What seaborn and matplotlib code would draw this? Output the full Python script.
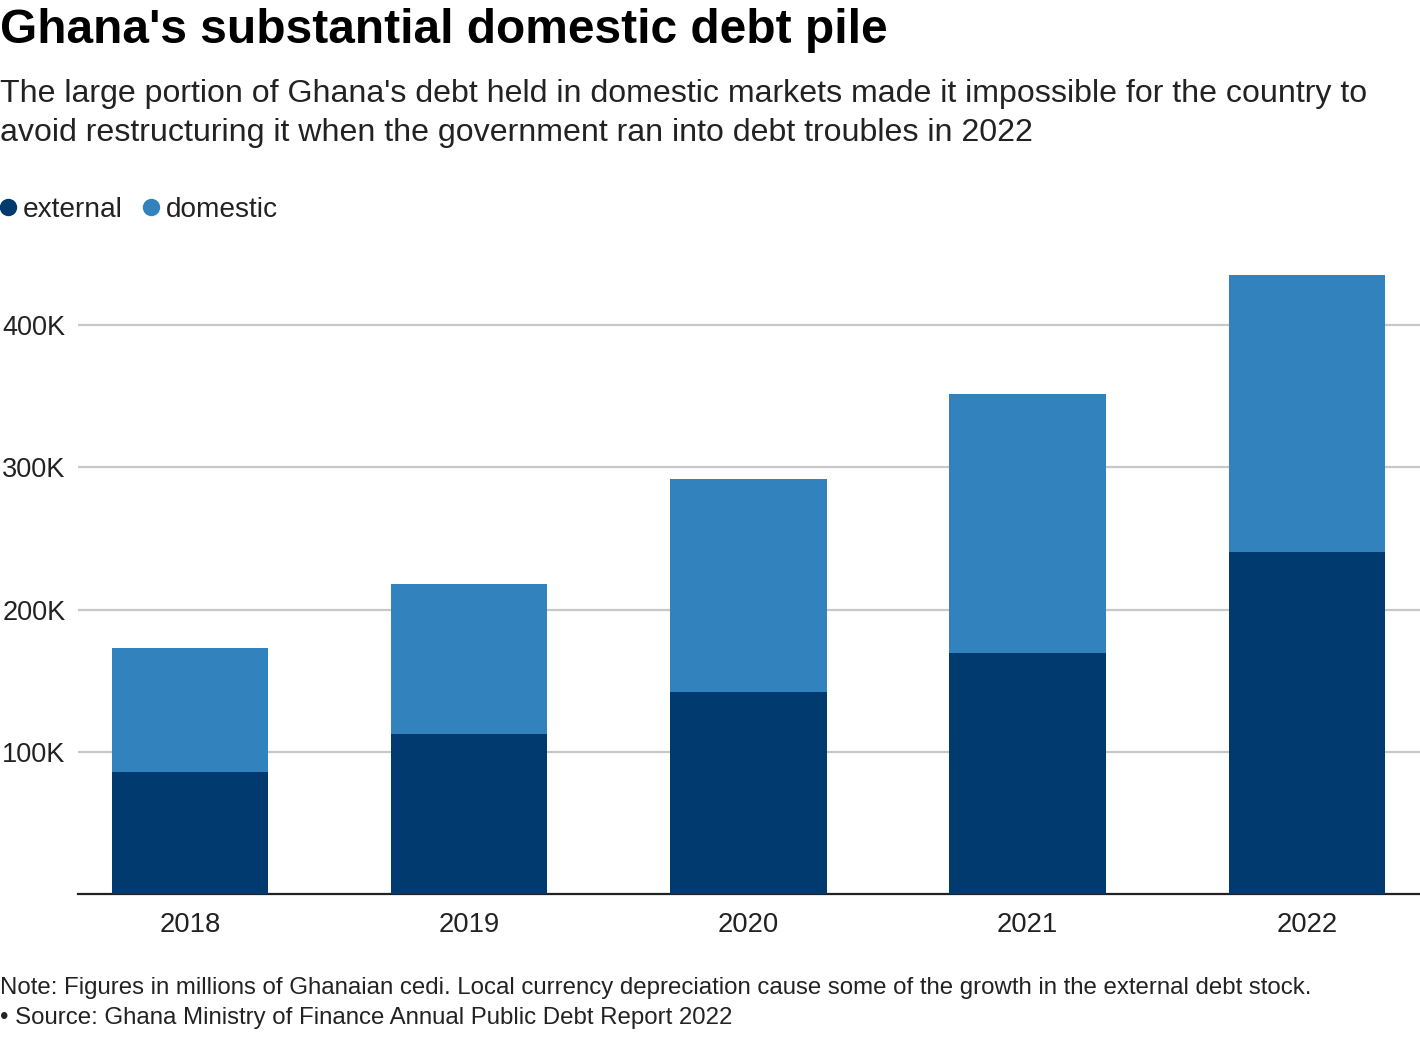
import matplotlib
matplotlib.use("Agg")
import matplotlib.pyplot as plt
from matplotlib.lines import Line2D
import pandas as pd
import seaborn as sns

# ── data (millions of cedi) ──
years    = ["2018", "2019", "2020", "2021", "2022"]
external = [85.9, 112.7, 142.3, 169.7, 240.8]
domestic = [87.3, 105.6, 149.2, 181.7, 194.4]
y_ticks  = [100, 200, 300, 400]
y_labels = ["100K", "200K", "300K", "400K"]

C_EXT  = "#003a6f"
C_DOM  = "#3282be"
C_GRID = "#c8c8c8"
C_TEXT = "#222222"

FONT = ["Liberation Sans", "DejaVu Sans"]

df = pd.DataFrame({"year": years, "external": external, "domestic": domestic})
df["total"] = df["external"] + df["domestic"]

sns.set_theme(style="white")
plt.rcParams["font.family"] = FONT

W, H = 1420, 1040
fig = plt.figure(figsize=(W / 100, H / 100), dpi=100)
ax = fig.add_axes([78 / W, 1 - 894 / H, 1 - 78 / W, (894 - 250) / H])


def fy(px):
    return 1 - px / H


# stacked bars: total (domestic colour) behind, external on top of it
sns.barplot(data=df, x="year", y="total", color=C_DOM, width=0.56,
            saturation=1, linewidth=0, ax=ax, zorder=2)
sns.barplot(data=df, x="year", y="external", color=C_EXT, width=0.56,
            saturation=1, linewidth=0, ax=ax, zorder=3)

ax.set_xlim(-0.401, 4.405)
ax.set_ylim(0, 452.8)
ax.set_yticks(y_ticks)
ax.set_yticklabels(y_labels)
ax.set_xlabel("")
ax.set_ylabel("")
ax.grid(axis="y", color=C_GRID, linewidth=1.6, zorder=0)
ax.set_axisbelow(True)
for side in ["top", "right", "left"]:
    ax.spines[side].set_visible(False)
ax.spines["bottom"].set_color("#222222")
ax.spines["bottom"].set_linewidth(1.6)
ax.tick_params(axis="y", length=0, pad=9, labelsize=19.5, labelcolor=C_TEXT)
ax.tick_params(axis="x", length=0, pad=13, labelsize=19.8, labelcolor=C_TEXT)

# ── header ──
fig.text(0, fy(43), "Ghana's substantial domestic debt pile",
         fontsize=34.5, fontweight="bold", color="black", va="baseline")
fig.text(0, fy(102), "The large portion of Ghana's debt held in domestic markets "
         "made it impossible for the country to",
         fontsize=23.1, color=C_TEXT, va="baseline")
fig.text(0, fy(141), "avoid restructuring it when the government ran into debt "
         "troubles in 2022",
         fontsize=23.1, color=C_TEXT, va="baseline")

handles = [Line2D([], [], marker="o", linestyle="", markersize=11.5,
                  color=c) for c in (C_EXT, C_DOM)]
fig.legend(handles, ["external", "domestic"], loc="center left",
           bbox_to_anchor=(0.0, fy(210)), ncol=2, frameon=False,
           fontsize=20.2, handlelength=0.55, handletextpad=0.25,
           columnspacing=0.75, borderpad=0, borderaxespad=0,
           labelcolor=C_TEXT)

# ── footer ──
fig.text(0, fy(994), "Note: Figures in millions of Ghanaian cedi. Local currency "
         "depreciation cause some of the growth in the external debt stock.",
         fontsize=17.3, color=C_TEXT, va="baseline")
fig.text(0, fy(1024), "\u2022 Source: Ghana Ministry of Finance Annual Public "
         "Debt Report 2022",
         fontsize=17.3, color=C_TEXT, va="baseline")

fig.savefig("out.png", dpi=100)
